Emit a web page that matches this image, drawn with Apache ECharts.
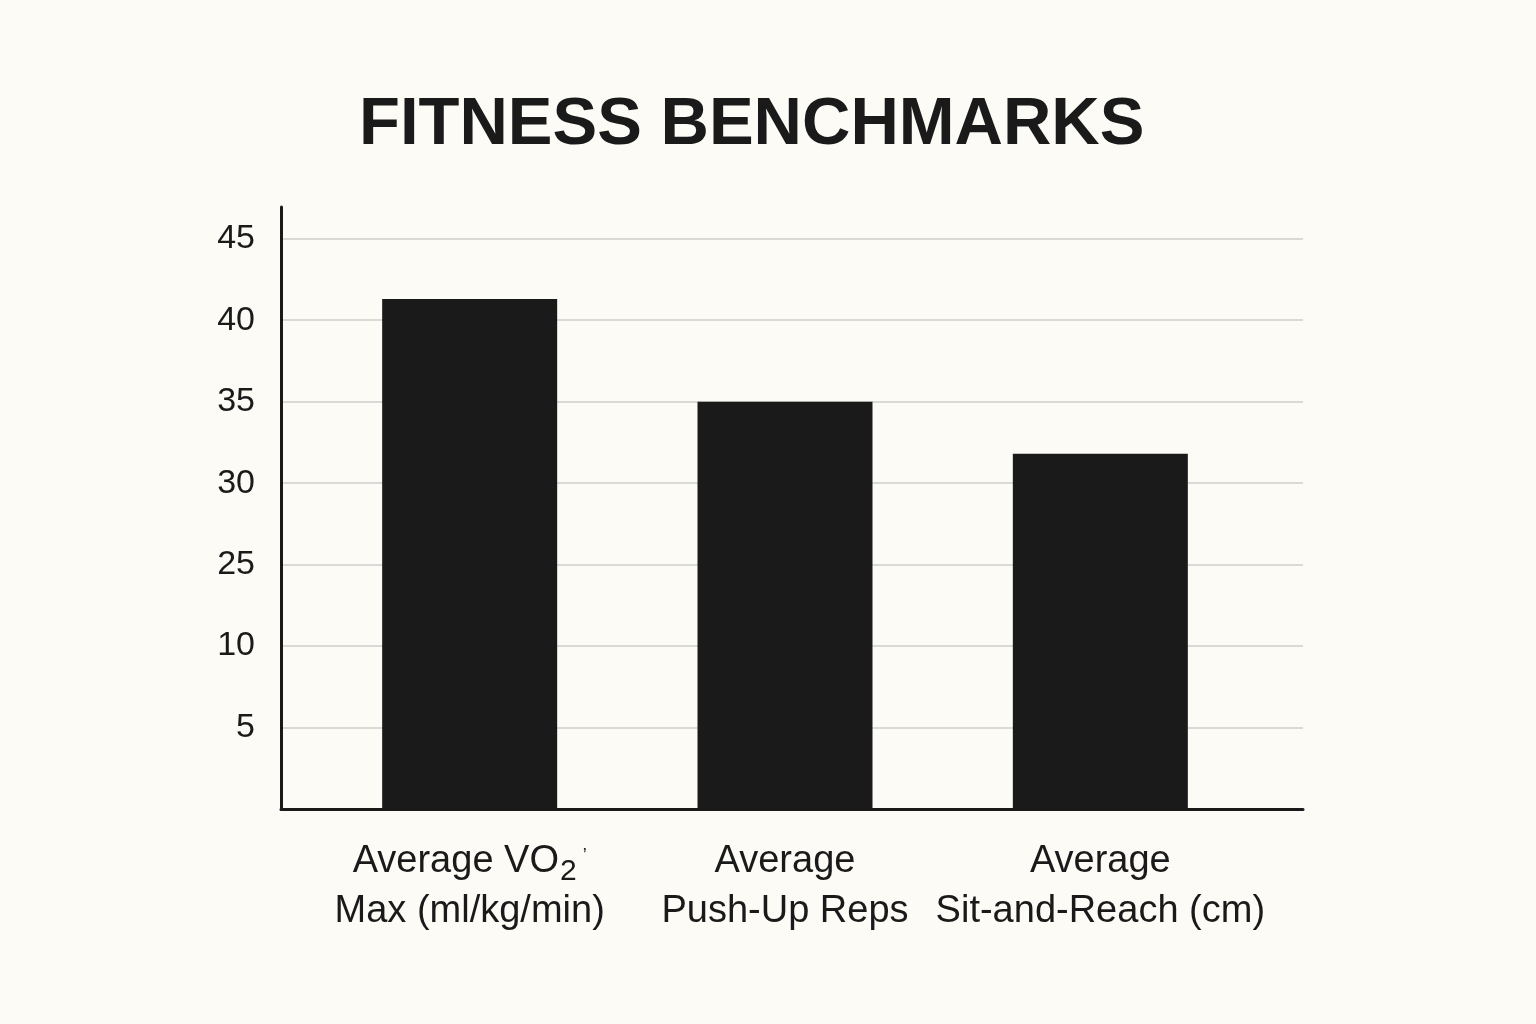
<!DOCTYPE html>
<html>
<head>
<meta charset="utf-8">
<script src="https://cdn.jsdelivr.net/npm/echarts@6/dist/echarts.min.js"></script>
<style>
html,body{margin:0;padding:0;background:#fcfbf6;}
#chart{width:1536px;height:1024px;}
</style>
</head>
<body>
<div id="chart"></div>
<script>
// ---- data ----
var titleText = 'FITNESS BENCHMARKS';
var categories = ['Average VO2 Max (ml/kg/min)', 'Average Push-Up Reps', 'Average Sit-and-Reach (cm)'];
var values = [41.3, 35.0, 31.8];
// tick labels as printed on the y axis, bottom (baseline) to top
var tickLabels = [0, 5, 10, 25, 30, 35, 40, 45];

// map a printed value onto the evenly spaced tick positions of the axis
function toAxisPos(v) {
  for (var i = 0; i < tickLabels.length - 1; i++) {
    var a = tickLabels[i], b = tickLabels[i + 1];
    if (v >= a && v <= b) return i + (v - a) / (b - a);
  }
  var n = tickLabels.length - 1;
  return n + (v - tickLabels[n]) / (tickLabels[n] - tickLabels[n - 1]);
}
var axisMax = 7.39;

var FONT = '"Liberation Sans", Arial, sans-serif';
var INK = '#1a1a1a';

var chart = echarts.init(document.getElementById('chart'));
chart.setOption({
  backgroundColor: '#fcfbf6',
  animation: false,
  title: {
    text: titleText,
    left: 354,
    top: 87,
    textStyle: {fontFamily: FONT, fontWeight: 'bold', fontSize: 67, color: INK}
  },
  grid: [
    {left: 281, right: 233, top: 207, bottom: 215},
    {left: 312, right: 278, top: 207, bottom: 215}
  ],
  xAxis: [
    {
      type: 'value', gridIndex: 0, min: 0, max: 1,
      axisLine: {show: true, lineStyle: {color: INK, width: 3}},
      axisTick: {show: false}, axisLabel: {show: false}, splitLine: {show: false}
    },
    {
      type: 'category', gridIndex: 1, data: categories,
      axisLine: {show: false}, axisTick: {show: false},
      axisLabel: {
        margin: 28,
        interval: 0,
        fontFamily: FONT, fontSize: 38, color: INK, lineHeight: 50,
        formatter: function (v, i) {
          if (i === 0) return 'Average VO{sub|2}{ap|’}\nMax (ml/kg/min)';
          var idx = v.indexOf(' ');
          return v.slice(0, idx) + '\n' + v.slice(idx + 1);
        },
        rich: {
          sub: {fontFamily: FONT, fontSize: 30, color: INK, lineHeight: 50, verticalAlign: 'bottom', padding: [0, 0, 0, 1]},
          ap: {fontFamily: FONT, fontSize: 18, color: INK, lineHeight: 50, verticalAlign: 'top', padding: [10, 0, 0, 6]}
        }
      }
    }
  ],
  yAxis: [
    {
      type: 'value', gridIndex: 0, min: 0, max: axisMax, interval: 1,
      axisLine: {show: true, lineStyle: {color: INK, width: 3}},
      axisTick: {show: false},
      axisLabel: {
        margin: 26, fontFamily: FONT, fontSize: 34, color: INK,
        showMaxLabel: false,
        formatter: function (v) {
          var i = Math.round(v);
          if (Math.abs(v - i) > 1e-6 || i === 0 || i >= tickLabels.length) return '';
          return String(tickLabels[i]);
        }
      },
      splitLine: {show: true, showMinLine: false, showMaxLine: false, lineStyle: {color: '#d9d9d6', width: 2}}
    },
    {
      type: 'value', gridIndex: 1, min: 0, max: axisMax,
      show: false, splitLine: {show: false}
    }
  ],
  series: [{
    type: 'bar',
    xAxisIndex: 1, yAxisIndex: 1,
    barWidth: 175,
    itemStyle: {color: INK},
    data: values.map(toAxisPos)
  }]
});
</script>
</body>
</html>
